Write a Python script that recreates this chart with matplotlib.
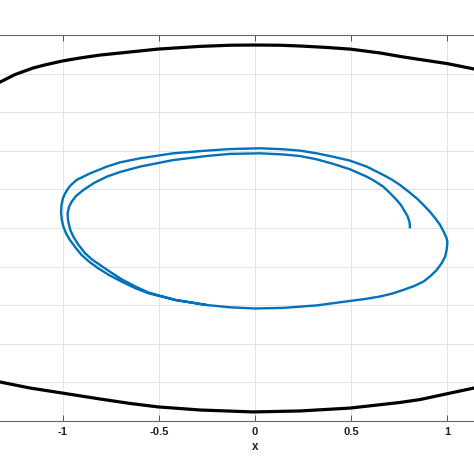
import matplotlib
matplotlib.use("Agg")
import matplotlib.pyplot as plt

# Blue trajectory (spiral converging onto the limit cycle)
traj_x = [0.807, 0.806, 0.804, 0.794, 0.781, 0.760, 0.738, 0.703, 0.668, 0.625,
          0.582, 0.495, 0.408, 0.321, 0.234, 0.147, 0.026, -0.130, -0.252, -0.426,
          -0.599, -0.703, -0.772, -0.839, -0.894, -0.932, -0.955, -0.969, -0.976, -0.975,
          -0.972, -0.962, -0.946, -0.919, -0.885, -0.849, -0.798, -0.755, -0.694, -0.625,
          -0.556, -0.417, -0.252, -0.130, 0.0, 0.147, 0.321, 0.495, 0.573, 0.651,
          0.714, 0.772, 0.828, 0.877, 0.914, 0.946, 0.971, 0.990, 0.999, 1.002,
          0.998, 0.982, 0.964, 0.940, 0.911, 0.878, 0.842, 0.799, 0.755, 0.714,
          0.668, 0.582, 0.495, 0.408, 0.321, 0.234, 0.147, 0.026, -0.130, -0.252,
          -0.426, -0.599, -0.703, -0.772, -0.859, -0.929, -0.958, -0.972, -0.988, -1.000,
          -1.008, -1.010, -1.006, -0.998, -0.984, -0.964, -0.935, -0.903, -0.862, -0.816,
          -0.760, -0.694, -0.625, -0.556, -0.417, -0.252]
traj_y = [-0.002, 0.021, 0.033, 0.062, 0.084, 0.119, 0.145, 0.181, 0.214, 0.242,
          0.266, 0.304, 0.332, 0.356, 0.373, 0.381, 0.387, 0.384, 0.373, 0.352,
          0.318, 0.290, 0.266, 0.233, 0.197, 0.166, 0.136, 0.109, 0.076, 0.052,
          0.031, -0.010, -0.045, -0.088, -0.131, -0.163, -0.198, -0.227, -0.266, -0.302,
          -0.334, -0.372, -0.399, -0.411, -0.417, -0.414, -0.401, -0.378, -0.368, -0.355,
          -0.340, -0.321, -0.301, -0.278, -0.249, -0.218, -0.184, -0.149, -0.109, -0.073,
          -0.053, -0.018, 0.016, 0.049, 0.084, 0.119, 0.154, 0.189, 0.223, 0.250,
          0.275, 0.318, 0.349, 0.369, 0.387, 0.401, 0.408, 0.413, 0.409, 0.401,
          0.387, 0.361, 0.340, 0.318, 0.283, 0.249, 0.223, 0.207, 0.181, 0.155,
          0.119, 0.078, 0.041, 0.007, -0.028, -0.062, -0.101, -0.140, -0.176, -0.209,
          -0.244, -0.278, -0.311, -0.338, -0.373, -0.399]

# Black outer curve (upper and lower branches)
outer_top_x = [-1.391, -1.328, -1.250, -1.156, -1.094, -1.005, -0.911, -0.807,
               -0.651, -0.505, -0.286, -0.130, 0.0, 0.130, 0.234, 0.365, 0.495,
               0.651, 0.755, 0.859, 1.0, 1.141, 1.214]
outer_top_y = [0.723, 0.756, 0.795, 0.829, 0.845, 0.865, 0.881, 0.896,
               0.912, 0.927, 0.941, 0.947, 0.948, 0.947, 0.943, 0.936, 0.927,
               0.907, 0.889, 0.873, 0.852, 0.824, 0.803]
outer_bot_x = [-1.391, -1.328, -1.172, -1.005, -0.807, -0.651, -0.505, -0.286,
               -0.010, 0.234, 0.495, 0.755, 0.859, 0.995, 1.141, 1.214]
outer_bot_y = [-0.780, -0.798, -0.829, -0.855, -0.886, -0.909, -0.927, -0.943,
               -0.953, -0.948, -0.933, -0.904, -0.889, -0.860, -0.829, -0.806]

x_ticks = [-1, -0.5, 0, 0.5, 1]
x_tick_labels = ["-1", "-0.5", "0", "0.5", "1"]
y_ticks = [-1, -0.8, -0.6, -0.4, -0.2, 0, 0.2, 0.4, 0.6, 0.8, 1]

plt.rcParams['font.family'] = ['Liberation Sans', 'DejaVu Sans']

fig = plt.figure(figsize=(4.74, 4.74), dpi=100)
ax = fig.add_axes([-33/474, 53/474, 576/474, 386/474])

ax.plot(outer_top_x, outer_top_y, color='black', lw=2.3,
        solid_capstyle='round', solid_joinstyle='round')
ax.plot(outer_bot_x, outer_bot_y, color='black', lw=2.3,
        solid_capstyle='round', solid_joinstyle='round')
ax.plot(traj_x, traj_y, color='#0072BD', lw=1.7,
        solid_joinstyle='round', solid_capstyle='butt')

ax.set_xlim(-1.5, 1.5)
ax.set_ylim(-1, 1)
ax.set_xticks(x_ticks)
ax.set_xticklabels(x_tick_labels)
ax.set_yticks(y_ticks)
ax.grid(True, color='#e3e3e3', lw=0.7)
ax.set_axisbelow(True)
ax.tick_params(direction='in', length=4, width=0.7, top=True, right=True,
               colors='#555555', labelcolor='#222222', labelsize=8, pad=4,
               labelleft=False)
for lab in ax.get_xticklabels():
    lab.set_fontweight('bold')
for s in ax.spines.values():
    s.set_color('#666666')
    s.set_linewidth(0.8)
ax.set_xlabel('x', fontsize=8.5, fontweight='bold', color='#222222', labelpad=3)

fig.savefig('out.png', dpi=100)
